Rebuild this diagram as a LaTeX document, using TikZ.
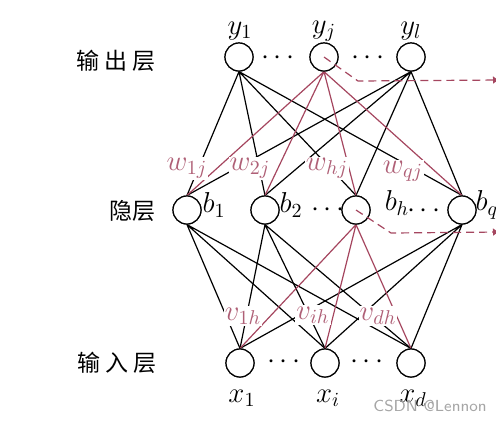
\documentclass[tikz,border=0pt]{standalone}
\usepackage{fontspec}
\newfontfamily\cjk{Noto Sans CJK SC}
\usetikzlibrary{positioning, arrows.meta}
\definecolor{wred}{RGB}{165,70,95}
\definecolor{wtext}{RGB}{175,95,118}

\begin{document}
\begin{tikzpicture}[x=0.5pt, y=-0.5pt, line width=0.6pt,
    neuron/.style = {draw, circle, fill=white, minimum size=14pt, inner sep=0pt},
    layer/.style = {font=\cjk\fontsize{11.5}{12}\selectfont},
    lab/.style = {font=\Large, inner sep=0pt},
    wlab/.style = {font=\Large, text=wtext, fill=white, inner sep=0.6pt},
    passon/.style = {wred, dashed, dash pattern=on 4pt off 2.5pt, -{Latex[length=3pt,width=4pt]}}]
    \useasboundingbox (0,0) rectangle (496,420);

    % layers
    \node[layer] (outlayer) at (116,61)  {输 出 层};
    \node[layer] (hidlayer) at (132,211) {隐层};
    \node[layer] (inlayer)  at (117,363) {输 入 层};

    % output layer
    \node[neuron] (y1) at (239,57) {};
    \node[neuron] (yj) at (324,57) {};
    \node[neuron] (yl) at (411,57) {};
    % hidden layer
    \node[neuron] (b1) at (187,210) {};
    \node[neuron] (b2) at (265,210) {};
    \node[neuron] (bh) at (356,210) {};
    \node[neuron] (bq) at (462,210) {};
    % input layer
    \node[neuron] (x1) at (240,363) {};
    \node[neuron] (xi) at (325,363) {};
    \node[neuron] (xd) at (411,363) {};

    % hidden -> output
    \draw (b1.north) -- (y1.south) (b2.north) -- (y1.south) (bh.north) -- (y1.south) (bq.north) -- (y1.south);
    \draw (b1.north) -- (yl.south) (b2.north) -- (yl.south) (bh.north) -- (yl.south) (bq.north) -- (yl.south);
    \draw[wred] (b1.north) -- (yj.south) (b2.north) -- (yj.south) (bh.north) -- (yj.south) (bq.north) -- (yj.south);

    % input -> hidden
    \draw (x1.north) -- (b1.south) (xi.north) -- (b1.south) (xd.north) -- (b1.south);
    \draw (x1.north) -- (b2.south) (xi.north) -- (b2.south) (xd.north) -- (b2.south);
    \draw (x1.north) -- (bq.south) (xi.north) -- (bq.south) (xd.north) -- (bq.south);
    \draw[wred] (x1.north) -- (bh.south) (xi.north) -- (bh.south) (xd.north) -- (bh.south);

    % weights
    \node[wlab] (w1j) at (187,168) {$w_{1j}$};
    \node[wlab] (w2j) at (250,168) {$w_{2j}$};
    \node[wlab] (whj) at (327,168) {$w_{hj}$};
    \node[wlab] (wqj) at (403,171) {$w_{qj}$};
    \node[wlab] (v1h) at (243,316) {$v_{1h}$};
    \node[wlab] (vih) at (313,315) {$v_{ih}$};
    \node[wlab] (vdh) at (378,316) {$v_{dh}$};

    % redraw circles over lines
    \foreach \n in {y1,yj,yl,b1,b2,bh,bq,x1,xi,xd}
        \draw[fill=white] (\n) circle (7pt);

    % names
    \node[lab] (y1lab) at (240,31) {$y_1$};
    \node[lab] (yjlab) at (324,31) {$y_j$};
    \node[lab] (yllab) at (411,31) {$y_l$};
    \node[lab] (b1lab) at (214,205) {$b_1$};
    \node[lab] (b2lab) at (291,205) {$b_2$};
    \node[lab] (bhlab) at (397,203) {$b_h$};
    \node[lab] (bqlab) at (487,205) {$b_q$};
    \node[lab] (x1lab) at (242,398) {$x_1$};
    \node[lab] (xilab) at (328,398) {$x_i$};
    \node[lab] (xdlab) at (413,398) {$x_d$};

    % dots
    \node[lab] (ydots1) at (278,58) {$\cdots$};
    \node[lab] (ydots2) at (368,58) {$\cdots$};
    \node[lab] (bdots1) at (328,210) {$\cdots$};
    \node[lab] (bdots2) at (424,211) {$\cdots$};
    \node[lab] (xdots1) at (284,362) {$\cdots$};
    \node[lab] (xdots2) at (367,362) {$\cdots$};

    % outputs to the right
    \coordinate (ybend) at (358,81);
    \coordinate (yend)  at (499,80);
    \coordinate (bbend) at (391,233);
    \coordinate (bend)  at (499,232);
    \draw[passon] (yj.center) -- (ybend) -- (yend);
    \draw[passon] (bh.center) -- (bbend) -- (bend);

    \node[text=gray!70, font=\sffamily\fontsize{8}{9}\selectfont] (mark) at (430,406) {CSDN @Lennon};
\end{tikzpicture}
\end{document}
